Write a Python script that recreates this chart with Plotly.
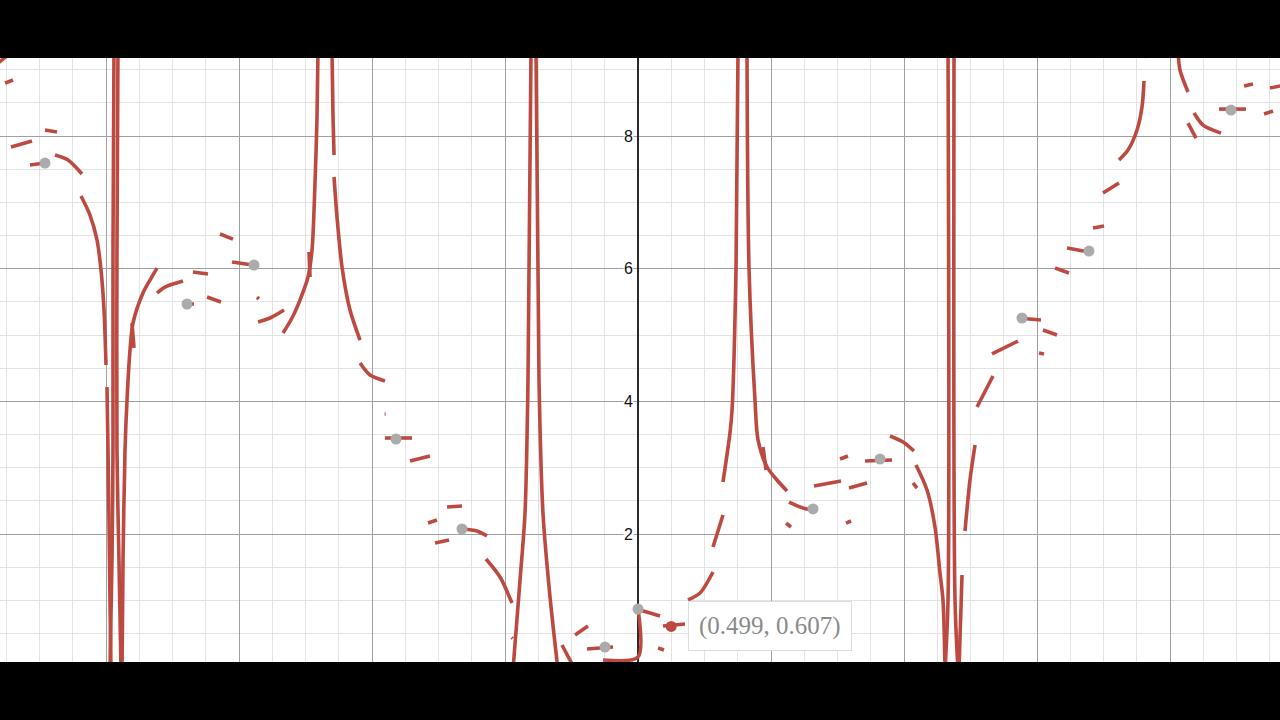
import plotly.graph_objects as go

# ---- curve fragments (data units) ----
seg_x = [
    [-9.65, -9.50],
    [-9.519, -9.398],
    [-9.429, -9.113],
    [-8.917, -8.737],
    [-9.143, -8.917],
    [-8.767, -8.571, -8.361],
    [-8.376, -8.241, -8.135, -8.075, -8.030, -8.0],
    [-7.985, -7.970, -7.955, -7.940, -7.925],
    [-7.880, -7.895, -7.895, -7.910, -7.940],
    [-7.820, -7.835, -7.835, -7.805, -7.774],
    [-7.233, -7.338, -7.444, -7.594, -7.639, -7.684, -7.714, -7.744, -7.759],
    [-7.609, -7.579],
    [-7.233, -7.113, -6.842],
    [-6.692, -6.466],
    [-6.481, -6.271],
    [-6.842, -6.677],
    [-6.286, -6.090],
    [-6.105, -5.789],
    [-5.73, -5.70],
    [-5.714, -5.534, -5.323],
    [-5.338, -5.203, -5.083, -4.962, -4.902, -4.857, -4.827, -4.812],
    [-4.947, -4.932],
    [-4.602, -4.586, -4.571],
    [-4.571, -4.526, -4.451, -4.331, -4.180],
    [-4.180, -4.030, -3.805],
    [-3.81, -3.795],
    [-3.805, -3.398],
    [-3.429, -3.128],
    [-3.158, -3.023],
    [-2.872, -2.647],
    [-3.053, -2.842],
    [-2.632, -2.421, -2.271],
    [-2.286, -2.075, -1.895],
    [-1.90, -1.885],
    [-1.609, -1.654, -1.699, -1.774, -1.880],
    [-1.534, -1.489, -1.429, -1.323, -1.203],
    [-1.143, -0.970],
    [-0.947, -0.752],
    [-0.767, -0.376],
    [-0.526, 0.0, 0.0],
    [0.030, 0.331],
    [0.376, 0.707],
    [0.301, 0.391],
    [0.752, 0.932, 1.128],
    [1.128, 1.278],
    [1.278, 1.383, 1.414, 1.474, 1.504],
    [1.639, 1.669, 1.759, 1.805, 1.940, 2.090, 2.241],
    [1.880, 1.925],
    [2.271, 2.481, 2.632],
    [2.226, 2.301],
    [2.647, 3.053],
    [3.038, 3.158],
    [3.173, 3.444],
    [3.128, 3.203],
    [3.414, 3.820],
    [3.789, 3.985, 4.150],
    [4.135, 4.195],
    [4.180, 4.346, 4.466, 4.541, 4.586, 4.617],
    [4.662, 4.662, 4.617],
    [4.752, 4.767, 4.812],
    [5.068, 4.992, 4.917],
    [4.872, 4.827],
    [5.098, 5.338],
    [5.323, 5.714],
    [5.714, 6.060],
    [6.090, 6.301],
    [6.030, 6.105],
    [6.271, 6.481],
    [6.451, 6.782],
    [6.842, 7.008],
    [6.992, 7.233],
    [7.233, 7.368, 7.504, 7.579, 7.609],
    [7.624, 7.640],
    [8.120, 8.150, 8.271],
    [8.361, 8.496, 8.767],
    [8.271, 8.391],
    [8.737, 9.143],
    [9.113, 9.248],
    [9.414, 9.549],
    [9.504, 9.730],
]
seg_y = [
    [9.08, 9.20],
    [8.799, 8.845],
    [7.835, 7.925],
    [8.091, 8.061],
    [7.563, 7.593],
    [7.714, 7.639, 7.428],
    [7.096, 6.809, 6.432, 5.980, 5.378, 4.549],
    [4.217, 3.267, 2.212, 1.006, -0.05],
    [9.3, 6.282, 3.267, 1.608, -0.05],
    [9.3, 6.282, 3.267, 1.608, -0.05],
    [6.010, 5.830, 5.634, 5.182, 4.775, 4.021, 3.267, 1.608, -0.05],
    [5.182, 4.805],
    [5.634, 5.724, 5.815],
    [5.950, 5.920],
    [5.574, 5.498],
    [5.468, 5.468],
    [6.523, 6.447],
    [6.101, 6.056],
    [5.570, 5.545],
    [5.197, 5.257, 5.378],
    [5.031, 5.257, 5.528, 5.875, 6.282, 7.292, 8.287, 9.3],
    [6.252, 5.875],
    [9.3, 8.287, 7.714],
    [7.383, 6.779, 6.026, 5.378, 4.925],
    [4.579, 4.398, 4.308],
    [3.810, 3.810],
    [3.448, 3.448],
    [3.101, 3.177],
    [2.166, 2.212],
    [2.408, 2.423],
    [1.865, 1.910],
    [2.076, 2.046, 1.970],
    [1.624, 1.352, 0.960],
    [0.440, 0.425],
    [9.3, 4.323, 2.317, 1.307, -0.05],
    [9.3, 4.323, 2.317, 1.051, -0.05],
    [0.327, 0.0],
    [0.478, 0.613],
    [0.267, 0.297],
    [0.101, 0.146, 0.870],
    [0.855, 0.764],
    [0.613, 0.644],
    [0.282, 0.252],
    [1.006, 1.110, 1.428],
    [1.805, 2.287],
    [2.785, 3.523, 3.870, 6.026, 9.3],
    [9.3, 6.026, 4.021, 3.418, 3.011, 2.815, 2.649],
    [3.312, 2.966],
    [2.483, 2.393, 2.362],
    [2.166, 2.106],
    [2.724, 2.800],
    [3.131, 3.177],
    [2.694, 2.770],
    [2.166, 2.197],
    [3.101, 3.116],
    [3.478, 3.388, 3.252],
    [2.770, 2.694],
    [3.041, 2.664, 2.106, 1.412, 1.006, -0.05],
    [9.3, 1.006, -0.05],
    [9.3, 1.006, -0.05],
    [3.342, 2.815, 2.046],
    [1.382, -0.05],
    [3.916, 4.383],
    [4.715, 4.910],
    [5.257, 5.227],
    [5.076, 5.001],
    [4.730, 4.715],
    [6.010, 5.935],
    [6.312, 6.252],
    [6.613, 6.644],
    [7.141, 7.292],
    [7.639, 7.789, 8.091, 8.437, 8.830],
    [9.177, 9.27],
    [9.3, 8.996, 8.664],
    [8.347, 8.166, 8.045],
    [8.196, 7.970],
    [8.407, 8.407],
    [8.754, 8.784],
    [8.332, 8.377],
    [8.724, 8.770],
]

# gray points
pt_x = [-8.917, -6.782, -5.774, -3.639, -2.647, -0.496, 0.0, 2.632, 3.639, 5.774, 6.782, 8.917]
pt_y = [7.593, 5.468, 6.056, 3.433, 2.076, 0.297, 0.870, 2.378, 3.131, 5.257, 6.267, 8.392]

# highlighted point
hl_x = [0.499]
hl_y = [0.607]
hl_label = "(0.499, 0.607)"

ytick_vals = [2, 4, 6, 8]
ytick_text = ["2", "4", "6", "8"]

RED = "#bd4a41"

xs, ys = [], []
for sx, sy in zip(seg_x, seg_y):
    xs += sx + [None]
    ys += sy + [None]

fig = go.Figure()
fig.add_trace(go.Scatter(x=xs, y=ys, mode="lines",
                         line=dict(color=RED, width=3.6, shape="spline", smoothing=0.8),
                         connectgaps=False, hoverinfo="skip"))
fig.add_trace(go.Scatter(x=pt_x, y=pt_y, mode="markers",
                         marker=dict(color="#ababab", size=11), hoverinfo="skip"))
fig.add_trace(go.Scatter(x=hl_x, y=hl_y, mode="markers",
                         marker=dict(color=RED, size=11), hoverinfo="skip"))

annotations = []
for v, t in zip(ytick_vals, ytick_text):
    annotations.append(dict(x=0, y=v, xref="x", yref="y", text=t, showarrow=False,
                            xanchor="right", yanchor="middle", xshift=-4,
                            font=dict(family="Arial, Liberation Sans", size=16, color="#111"),
                            bgcolor="rgba(255,255,255,0.85)", borderpad=0))
annotations.append(dict(x=hl_x[0], y=hl_y[0], xref="x", yref="y", text=hl_label,
                        showarrow=False, xanchor="left", yanchor="middle", xshift=17,
                        font=dict(family="Liberation Serif, Times New Roman, serif", size=25, color="#8a8a8a"),
                        bgcolor="white", bordercolor="#dcdcdc", borderwidth=1, borderpad=10))

fig.update_layout(
    width=1280, height=720,
    margin=dict(l=0, r=0, t=58, b=58),
    paper_bgcolor="black", plot_bgcolor="white",
    showlegend=False,
    annotations=annotations,
    xaxis=dict(range=[-9.594, 9.654], dtick=2, tick0=0, showticklabels=False,
               showgrid=True, gridcolor="#a0a0a0", gridwidth=1,
               zeroline=True, zerolinecolor="#2a2a2a", zerolinewidth=1.6,
               minor=dict(dtick=0.5, tick0=0, showgrid=True, gridcolor="#e3e3e3", gridwidth=1),
               fixedrange=True),
    yaxis=dict(range=[0.071, 9.177], dtick=2, tick0=0, showticklabels=False,
               showgrid=True, gridcolor="#a0a0a0", gridwidth=1,
               zeroline=False,
               minor=dict(dtick=0.5, tick0=0, showgrid=True, gridcolor="#e3e3e3", gridwidth=1),
               fixedrange=True),
)

fig.write_html("out.html", config={"displayModeBar": False},
               post_script="document.body.style.margin='0';document.body.style.background='black';")
